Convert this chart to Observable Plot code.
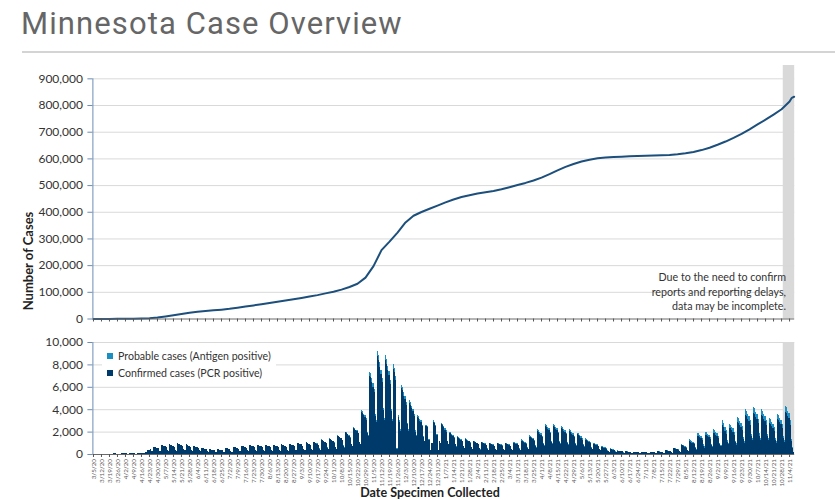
<!DOCTYPE html>
<html>
<head>
<meta charset="utf-8">
<script src="https://cdn.jsdelivr.net/npm/d3@7"></script>
<script src="https://cdn.jsdelivr.net/npm/@observablehq/plot@0.6"></script>
<style>
  body { margin: 0; background: #fff; }
  #page { position: relative; width: 835px; height: 500px; overflow: hidden; font-family: Lato, "Liberation Sans", sans-serif; color: #333; }
  #title { position: absolute; left: 21px; top: 5px; font-family: Roboto, sans-serif; font-size: 31px; letter-spacing: 1.1px; color: #666; white-space: nowrap; }
  #rule { position: absolute; left: 22px; right: 0; top: 51px; height: 2px; background: #d4d4d4; }
  #top { position: absolute; left: 0; top: 60px; }
  #bottom { position: absolute; left: 0; top: 335px; }
  #ytitle { position: absolute; left: 28px; top: 261px; transform: translate(-50%, -50%) rotate(-90deg); font-weight: 700; font-size: 13px; white-space: nowrap; color: #222; }
  #xtitle { position: absolute; left: 430px; top: 485px; transform: translateX(-50%); font-weight: 700; font-size: 12.5px; white-space: nowrap; color: #222; }
  #note { position: absolute; right: 49px; top: 270px; text-align: right; font-size: 10.7px; line-height: 14.5px; color: #333; }
  #legend { position: absolute; left: 102px; top: 345px; width: 174px; height: 38px; background: #fff; font-size: 10.6px; color: #333; }
  #legend div { position: absolute; left: 5px; white-space: nowrap; line-height: 14px; }
  #legend span { display: inline-block; width: 6px; height: 6px; margin-right: 5px; vertical-align: 1px; }
</style>
</head>
<body>
<div id="page">
  <div id="title">Minnesota Case Overview</div>
  <div id="rule"></div>
  <div id="top"></div>
  <div id="bottom"></div>
  <div id="ytitle">Number of Cases</div>
  <div id="xtitle">Date Specimen Collected</div>
  <div id="note">Due to the need to confirm<br>reports and reporting delays,<br>data may be incomplete.</div>
  <div id="legend">
    <div style="top:4px"><span id="swProb"></span>Probable cases (Antigen positive)</div>
    <div style="top:21px"><span id="swConf"></span>Confirmed cases (PCR positive)</div>
  </div>
</div>
<script>
// First specimen date; every row below is one week, Thursday through Wednesday.
const startDay = "2020-03-05";
const lastDay = "2021-11-08";
// Most recent days shaded as possibly incomplete.
const incompleteFrom = "2021-10-30";

// Daily confirmed (PCR positive) cases, in hundreds.
const confirmedWeeks = [
  [0,0.1,0,0,0.2,0.2,0.2],
  [0.2,0.2,0.1,0.1,0.4,0.4,0.4],
  [0.3,0.3,0.2,0.1,0.5,0.5,0.5],
  [0.4,0.4,0.2,0.2,0.7,0.7,0.6],
  [0.6,0.5,0.3,0.2,0.9,0.9,0.8],
  [0.8,0.7,0.4,0.3,1.3,1.3,1.2],
  [1.1,1.0,0.6,0.5,2.2,2.1,3.5],
  [4.0,4.5,3.0,2.5,6.5,6.5,6.0],
  [5.5,5.0,3.0,2.5,8.0,7.8,7.2],
  [6.8,6.0,3.6,2.8,8.5,8.2,7.6],
  [7.2,6.4,3.8,3.0,9.5,9.2,8.6],
  [8.0,7.1,4.3,3.3,3.5,8.5,8.0],
  [7.2,6.4,3.8,3.0,7.0,6.8,6.3],
  [6.0,5.2,3.2,2.5,5.5,5.3,5.0],
  [4.7,4.1,2.5,1.9,4.5,4.4,4.0],
  [3.8,3.4,2.0,1.6,4.5,4.4,4.0],
  [3.8,3.4,2.0,1.6,5.5,5.3,5.0],
  [4.7,2.5,1.5,1.8,6.5,6.3,5.9],
  [5.5,4.9,2.9,2.3,7.5,7.3,6.8],
  [6.4,5.6,3.4,2.6,8.0,7.8,7.2],
  [6.8,6.0,3.6,2.8,8.0,7.8,7.2],
  [6.9,6.1,3.5,2.9,7.9,7.7,7.3],
  [6.8,6.0,3.6,2.8,8.0,7.7,7.1],
  [6.8,6.0,3.6,2.8,8.5,8.2,7.6],
  [7.2,6.4,3.8,3.0,9.0,8.7,8.1],
  [7.6,6.8,4.0,3.2,10.0,9.7,9.0],
  [8.5,7.5,4.5,3.5,4.0,10.5,10.0],
  [8.6,7.7,4.6,3.6,10.7,10.4,9.6],
  [9.1,8.1,4.8,3.8,12.6,12.2,11.3],
  [10.7,9.5,5.7,4.5,13.6,13.2,12.2],
  [11.5,10.2,6.1,4.8,16.5,16.0,14.8],
  [14.1,12.4,7.5,5.8,19.4,18.8,17.5],
  [16.5,14.5,8.7,6.8,23.3,22.6,21.0],
  [20.4,18.4,10.7,8.7,37.8,36.9,34.9],
  [33.2,30.4,19,16.1,69.3,68.4,64.6],
  [59.8,55.1,34.2,28.5,87.4,83.6,77.9],
  [71.2,64.6,38.9,30.4,83.6,80.7,75],
  [70.3,62.7,38,29.4,76,73.1,66.5],
  [4.7,33.2,28.5,20.9,58.9,57,52.2],
  [49.4,43.7,26.6,20.9,45.6,43.7,40.8],
  [38,34.2,19.9,16.1,33.2,32.3,29.4],
  [28.5,24.7,15.2,11.4,24.7,24.7,23.7],
  [12.3,3.8,9.5,9.5,28.5,27.5,24.7],
  [17.1,3.8,11.4,9.5,26.6,25.6,23.7],
  [21.8,19.9,11.4,8.5,19,18.5,17.1],
  [16.1,14.2,8.5,6.6,15.2,14.7,13.7],
  [12.9,11.4,6.8,5.3,13.3,12.9,12],
  [11.3,10,6,4.7,11.4,11,10.3],
  [9.7,8.5,5.1,4,10.4,10.2,9.4],
  [8.9,7.9,4.7,3.7,9.5,9.2,8.5],
  [8.1,7.1,4.3,3.3,9.5,9.2,8.5],
  [8.1,7.2,4.2,3.4,9.4,9.3,8.6],
  [7.8,6.9,4.1,3.2,10.1,9.8,9.1],
  [8.6,7.6,4.6,3.6,12,11.6,10.8],
  [10.1,9,5.4,4.2,15.6,15.2,14.1],
  [13.3,11.8,7.1,5.5,20.2,19.6,18.2],
  [17.2,15.2,9.1,7.1,24.8,24.1,22.4],
  [21.2,18.4,11,8.7,24.8,24.1,22.4],
  [21.2,18.4,11,8.7,23,22.4,20.7],
  [19.3,17.5,10.1,8.1,20.2,19.6,18.2],
  [17.2,15.2,9.1,7.1,17.5,16.9,15.7],
  [14.7,12.9,7.9,6.2,12.9,12.5,11.6],
  [11,9.7,5.8,4.5,9.2,8.9,8.3],
  [7.8,6.9,4.1,3.2,6.4,6.3,5.8],
  [5.5,4.9,2.9,2.3,1.4,4.6,4.2],
  [4,3.6,2.2,1.7,3,2.9,2.7],
  [2.5,2.3,1.3,1,2.4,2.3,2.2],
  [2.1,1.9,1.1,0.8,2.1,2,1.9],
  [1.8,1.6,0.9,0.7,1.9,1.8,1.7],
  [1.6,1.4,0.8,0.5,0.8,1.9,1.8],
  [1.6,1.4,0.8,0.7,2.3,2.3,2.2],
  [2,1.8,1,0.8,3.3,3.2,3],
  [2.8,2.4,1.5,1.1,5.2,5,4.7],
  [4.4,3.9,2.3,1.8,8,7.7,7.2],
  [6.3,5.6,3.3,2.6,11.3,11,10.2],
  [9.6,8.5,5.1,4,16.5,16,14.9],
  [13.9,12.2,7.5,5.8,17.4,16.9,15.7],
  [14.8,13,7.8,6.1,19.1,18.5,17.2],
  [16.3,14.4,8.6,6.7,7,26.1,24.4],
  [20.9,18.3,11,8.5,23.5,22.8,21.1],
  [20,17.4,10.4,8.3,28.7,27.8,25.8],
  [24.4,21.6,13,10.1,34.8,33.8,31.3],
  [29.6,26.1,15.7,12.2,36.5,35.4,32.9],
  [31.1,27.4,16.4,12.8,34.8,33.8,31.3],
  [29.6,26.1,15.7,12.2,27.8,27,25.1],
  [23.5,20.9,12.5,9.7,31.3,30.4,28.2],
  [26.6,23.5,14.1,11,37.4,36.3,33.7],
  [32.2,26.1,11.3,5.2,1.7]
];

// Daily probable (antigen positive) cases, in hundreds.
const probableWeeks = [
  [0,0,0,0,0,0,0],[0,0,0,0,0,0,0],[0,0,0,0,0,0,0],[0,0,0,0,0,0,0],
  [0,0,0,0,0,0,0],[0,0,0,0,0,0,0],[0,0,0,0,0,0,0],[0,0,0,0,0,0,0],
  [0,0,0,0,0,0,0],[0,0,0,0,0,0,0],[0,0,0,0,0,0,0],[0,0,0,0,0,0,0],
  [0,0,0,0,0,0,0],[0,0,0,0,0,0,0],[0,0,0,0,0,0,0],[0,0,0,0,0,0,0],
  [0,0,0,0,0,0,0],[0,0,0,0,0,0,0],[0,0,0,0,0,0,0],[0,0,0,0,0,0,0],
  [0,0,0,0,0,0,0],[0,0,0,0,0,0,0],[0,0,0,0,0,0,0],[0,0,0,0,0,0,0],
  [0,0,0,0,0,0,0],[0,0,0,0,0,0,0],[0,0,0,0,0,0,0],
  [0.3,0.2,0.1,0.1,0.3,0.3,0.3],
  [0.3,0.2,0.2,0.1,0.4,0.4,0.4],
  [0.3,0.3,0.2,0.1,0.4,0.4,0.4],
  [0.4,0.3,0.2,0.1,0.5,0.5,0.5],
  [0.4,0.4,0.2,0.2,0.6,0.6,0.5],
  [0.5,0.5,0.3,0.2,0.7,0.7,0.6],
  [0.6,0.6,0.3,0.3,1.2,1.1,1.1],
  [1.8,1.6,1,0.9,3.7,3.6,3.4],
  [3.2,2.9,1.8,1.5,4.6,4.4,4.1],
  [3.8,3.4,2.1,1.6,4.4,4.3,4.0],
  [3.7,3.3,2,1.6,4,3.9,3.5],
  [0.3,1.8,1.5,1.1,3.1,3,2.8],
  [2.6,2.3,1.4,1.1,2.4,2.3,2.2],
  [2,1.8,1.1,0.9,1.8,1.7,1.6],
  [1.5,1.3,0.8,0.6,1.3,1.3,1.3],
  [0.7,0.2,0.5,0.5,1.5,1.5,1.3],
  [0.9,0.2,0.6,0.5,1.4,1.4,1.3],
  [1.2,1.1,0.6,0.5,1,1,0.9],
  [0.9,0.8,0.5,0.4,0.8,0.8,0.7],
  [0.7,0.6,0.4,0.3,0.7,0.7,0.6],
  [0.6,0.5,0.3,0.2,0.6,0.6,0.5],
  [0.5,0.5,0.3,0.2,0.6,0.5,0.5],
  [0.5,0.4,0.3,0.2,0.5,0.5,0.5],
  [0.4,0.4,0.2,0.2,0.5,0.5,0.5],
  [0.4,0.4,0.2,0.2,0.5,0.5,0.5],
  [0.7,0.6,0.4,0.3,0.9,0.9,0.8],
  [0.8,0.7,0.4,0.3,1,1,0.9],
  [0.9,0.8,0.5,0.4,1.4,1.3,1.2],
  [1.2,1,0.6,0.5,1.8,1.7,1.6],
  [1.5,1.3,0.8,0.6,2.2,2.1,1.9],
  [1.8,1.6,1,0.8,2.2,2.1,1.9],
  [1.8,1.6,1,0.8,2,1.9,1.8],
  [1.7,1.5,0.9,0.7,1.8,1.7,1.6],
  [1.5,1.3,0.8,0.6,1.5,1.5,1.4],
  [1.3,1.1,0.7,0.5,1.1,1.1,1],
  [1,0.8,0.5,0.4,0.8,0.8,0.7],
  [0.7,0.6,0.4,0.3,0.6,0.5,0.5],
  [0.5,0.4,0.3,0.2,0.1,0.4,0.4],
  [0.3,0.2,0.1,0.1,0.2,0.2,0.2],
  [0.2,0.1,0.1,0.1,0.2,0.2,0.1],
  [0.1,0.1,0.1,0.1,0.1,0.1,0.1],
  [0.1,0.1,0.1,0.1,0.1,0.1,0.1],
  [0.1,0.1,0,0,0,0.1,0.1],
  [0.1,0.1,0.1,0,0.2,0.1,0.1],
  [0.1,0.1,0.1,0.1,0.2,0.2,0.2],
  [0.2,0.2,0.1,0.1,0.3,0.3,0.3],
  [0.3,0.2,0.2,0.1,0.5,0.5,0.5],
  [0.9,0.8,0.5,0.4,1.7,1.6,1.5],
  [1.4,1.3,0.8,0.6,2.5,2.4,2.2],
  [2.1,1.8,1.1,0.9,2.6,2.5,2.3],
  [2.2,2,1.2,0.9,2.9,2.8,2.6],
  [2.4,2.1,1.3,1,1,3.9,3.6],
  [3.1,2.7,1.6,1.3,3.5,3.4,3.2],
  [3,2.6,1.6,1.2,4.3,4.2,3.9],
  [3.6,3.2,1.9,1.5,5.2,5,4.7],
  [4.4,3.9,2.3,1.8,5.5,5.3,4.9],
  [4.6,4.1,2.5,1.9,5.2,5,4.7],
  [4.4,3.9,2.3,1.8,4.2,4,3.7],
  [3.5,3.1,1.9,1.5,4.7,4.5,4.2],
  [4,3.5,2.1,1.6,5.6,5.4,5],
  [4.8,3.9,1.7,0.8,0.3]
];

// Cumulative cases, in thousands, on each Thursday from startDay.
const cumulativeWeekly = [
  0,0.05,0.2,0.5,0.9,1.4,2.1,3.2,5.5,9.5,14,19,23.5,27,30,32.5,35,38,42,46.5,
  51,55.5,60,64.5,69,74,79,84,89.5,96,102,110,120,132,155,198,258,290,324,362,
  387,401,413,425,437,448,457,464,470,475,480,486,494,502,510,519,530,543,557,570,
  581,590,597,602,605,607,608.5,609.5,610.5,611.5,612.5,613.5,615,617.5,621,626,633,642,653,665,
  679,694,711,729,747,766,786,815
];
// Final days after the last Thursday.
const cumulativeTailDays = ["2021-11-06", "2021-11-08"];
const cumulativeTailValues = [829, 833];

const topTicks = [0,100000,200000,300000,400000,500000,600000,700000,800000,900000];
const bottomTicks = [0,2000,4000,6000,8000,10000];

const colors = { confirmed: "#003a6b", probable: "#1b8ec2", line: "#1c4f7c", grid: "#d9d9d9", axis: "#6b8db5", band: "#d9d9d9" };
document.getElementById("swProb").style.background = colors.probable;
document.getElementById("swConf").style.background = colors.confirmed;

const day = (s) => new Date(s + "T00:00:00Z");
const t0 = day(startDay), tEnd = day(lastDay);
const halfDay = 12 * 3600 * 1000;
const xDomain = [new Date(+t0 - halfDay), new Date(+tEnd + halfDay)];
const weekTicks = d3.utcDay.range(t0, new Date(+tEnd + 1), 7).filter(d => +d <= +day("2021-11-04"));

const confirmed = confirmedWeeks.flat();
const probable = probableWeeks.flat();
const bars = [];
confirmed.forEach((c, i) => {
  const d = d3.utcDay.offset(t0, i);
  const x1 = new Date(+d - halfDay), x2 = new Date(+d + halfDay);
  const conf = c * 100, prob = probable[i] * 100;
  bars.push({ x1, x2, y1: 0, y2: conf, series: "Confirmed" });
  if (prob > 0) bars.push({ x1, x2, y1: conf, y2: conf + prob, series: "Probable" });
});

const cumulative = cumulativeWeekly.map((v, i) => ({ date: d3.utcDay.offset(t0, 7 * i), value: v * 1000 }))
  .concat(cumulativeTailDays.map((s, i) => ({ date: day(s), value: cumulativeTailValues[i] * 1000 })));

const band = [{ x1: new Date(+day(incompleteFrom) - halfDay), x2: xDomain[1] }];

const common = { width: 835, marginLeft: 92.4, marginRight: 40.8, style: { background: "transparent", fontFamily: "Lato, sans-serif", overflow: "visible" } };

const topChart = Plot.plot({
  ...common,
  height: 268, marginTop: 5, marginBottom: 9.5,
  x: { type: "utc", domain: xDomain },
  y: { domain: [0, 950000] },
  marks: [
    Plot.rect(band, { x1: "x1", x2: "x2", y1: 0, y2: 950000, fill: colors.band }),
    Plot.ruleY(topTicks.slice(1), { stroke: colors.grid, strokeWidth: 1 }),
    Plot.line(cumulative, { x: "date", y: "value", stroke: colors.line, strokeWidth: 2 }),
    Plot.ruleY([0], { stroke: "#6a6a6a" }),
    Plot.ruleX([xDomain[0]], { y1: 0, y2: 900000, stroke: colors.axis }),
    Plot.axisY(topTicks, { tickFormat: d3.format(","), tickSize: 5, tickPadding: 5, fontSize: 12, stroke: colors.axis, fill: "#333", label: null }),
    Plot.axisX(weekTicks, { tickSize: 3, tickFormat: () => "", stroke: "#555", label: null })
  ]
});
document.getElementById("top").appendChild(topChart);

const bottomChart = Plot.plot({
  ...common,
  height: 165, marginTop: 7, marginBottom: 46,
  x: { type: "utc", domain: xDomain },
  y: { domain: [0, 10000] },
  color: { domain: ["Confirmed", "Probable"], range: [colors.confirmed, colors.probable] },
  marks: [
    Plot.rect(band, { x1: "x1", x2: "x2", y1: 0, y2: 10000, fill: colors.band }),
    Plot.ruleY(bottomTicks.slice(1), { stroke: colors.grid, strokeWidth: 1 }),
    Plot.rect(bars, { x1: "x1", x2: "x2", y1: "y1", y2: "y2", fill: "series", shapeRendering: "crispEdges" }),
    Plot.ruleY([0], { stroke: "#6a6a6a" }),
    Plot.ruleX([xDomain[0]], { y1: 0, y2: 10000, stroke: colors.axis }),
    Plot.axisY(bottomTicks, { tickFormat: d3.format(","), tickSize: 5, tickPadding: 5, fontSize: 12, stroke: colors.axis, fill: "#333", label: null }),
    Plot.axisX(weekTicks, { tickSize: 3, tickPadding: 1.5, tickRotate: -90, fontSize: 6.3, tickFormat: d3.utcFormat("%-m/%-d/%y"), stroke: "#555", fill: "#595959", label: null })
  ]
});
document.getElementById("bottom").appendChild(bottomChart);
</script>
</body>
</html>
